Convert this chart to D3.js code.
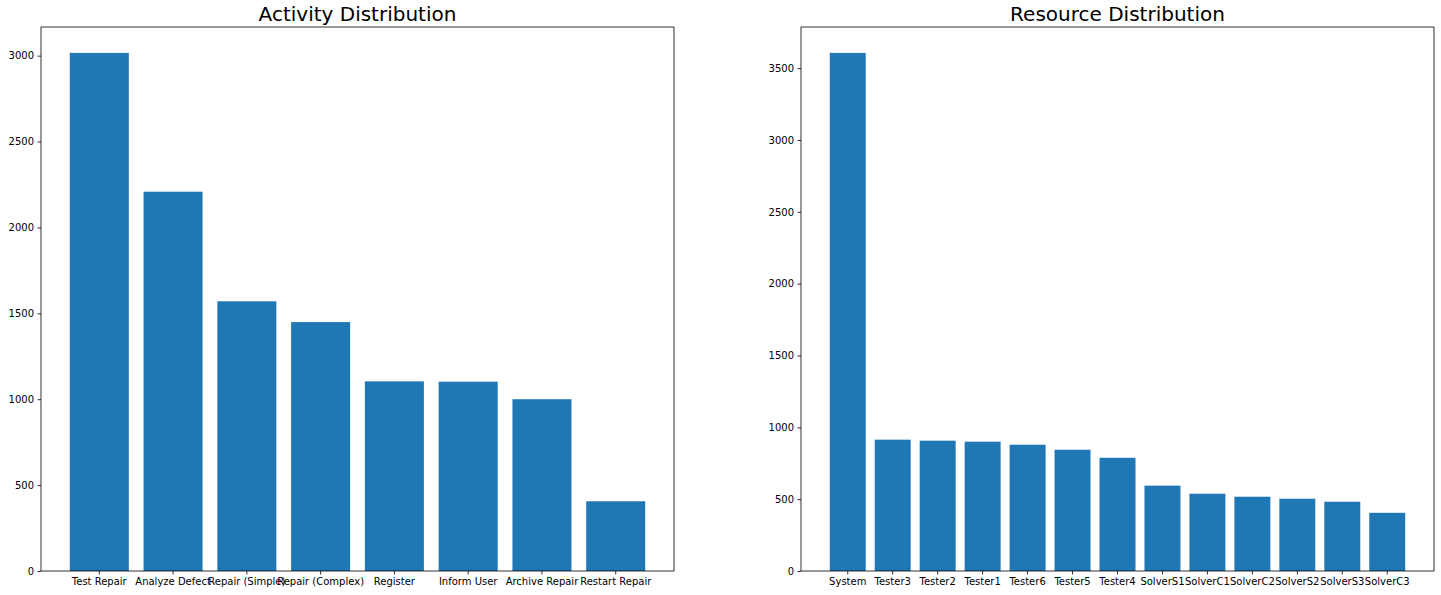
<!DOCTYPE html>
<html>
<head>
<meta charset="utf-8">
<script src="https://cdn.jsdelivr.net/npm/d3@7"></script>
<style>
  body { margin: 0; background: #fff; }
  svg { font-family: "DejaVu Sans", sans-serif; }
  .axis { font-family: "DejaVu Sans", sans-serif; }
  .axis path, .axis line { stroke: #000; stroke-width: 0.8; }
  .axis text { font-size: 10px; fill: #000; }
</style>
</head>
<body>
<div id="chart-area"></div>
<script>
// activity counts
var activities = ["Test Repair", "Analyze Defect", "Repair (Simple)", "Repair (Complex)",
                  "Register", "Inform User", "Archive Repair", "Restart Repair"];
var activityCounts = [3016, 2208, 1570, 1449, 1104, 1102, 1000, 406];
var activityTicks = [0, 500, 1000, 1500, 2000, 2500, 3000];

// resource counts
var resources = ["System", "Tester3", "Tester2", "Tester1", "Tester6", "Tester5", "Tester4",
                 "SolverS1", "SolverC1", "SolverC2", "SolverS2", "SolverS3", "SolverC3"];
var resourceCounts = [3606, 914, 907, 900, 879, 844, 788, 594, 538, 517, 503, 482, 405];
var resourceTicks = [0, 500, 1000, 1500, 2000, 2500, 3000, 3500];

var svg = d3.select("#chart-area")
    .append("svg")
    .attr("width", 1441)
    .attr("height", 595);

var plotTop = 27, plotBottom = 571;

function drawPanel(left, right, title, cats, vals, ticks) {
    var width = right - left, height = plotBottom - plotTop;
    var g = svg.append("g")
        .attr("transform", "translate(" + left + "," + plotTop + ")");

    // matplotlib style margins: 5% of the bar extent on each side
    var n = cats.length;
    var x = d3.scaleBand()
        .domain(cats)
        .range([0, width])
        .paddingInner(0.2)
        .paddingOuter(0.05 * (n - 0.2))
        .align(0.5);

    var y = d3.scaleLinear()
        .domain([0, d3.max(vals) * 1.05])
        .range([height, 0]);

    g.selectAll(".bar")
        .data(cats)
        .enter()
        .append("rect")
        .attr("class", "bar")
        .attr("x", function (d) { return x(d); })
        .attr("width", x.bandwidth())
        .attr("y", function (d, i) { return y(vals[i]); })
        .attr("height", function (d, i) { return height - y(vals[i]); })
        .attr("fill", "#1f77b4");

    g.append("g")
        .attr("class", "axis")
        .attr("transform", "translate(0," + height + ")")
        .call(d3.axisBottom(x).tickSize(3.5).tickPadding(3.5).tickSizeOuter(0))
        .select(".domain").remove();

    g.append("g")
        .attr("class", "axis")
        .call(d3.axisLeft(y).tickValues(ticks).tickFormat(d3.format("d"))
            .tickSize(3.5).tickPadding(3.5).tickSizeOuter(0))
        .select(".domain").remove();

    // frame
    g.append("rect")
        .attr("width", width)
        .attr("height", height)
        .attr("fill", "none")
        .attr("stroke", "#000")
        .attr("stroke-width", 0.8);

    g.append("text")
        .attr("x", width / 2)
        .attr("y", -6)
        .attr("text-anchor", "middle")
        .style("font-size", "20px")
        .text(title);
}

drawPanel(41, 674, "Activity Distribution", activities, activityCounts, activityTicks);
drawPanel(801, 1434, "Resource Distribution", resources, resourceCounts, resourceTicks);
</script>
</body>
</html>
